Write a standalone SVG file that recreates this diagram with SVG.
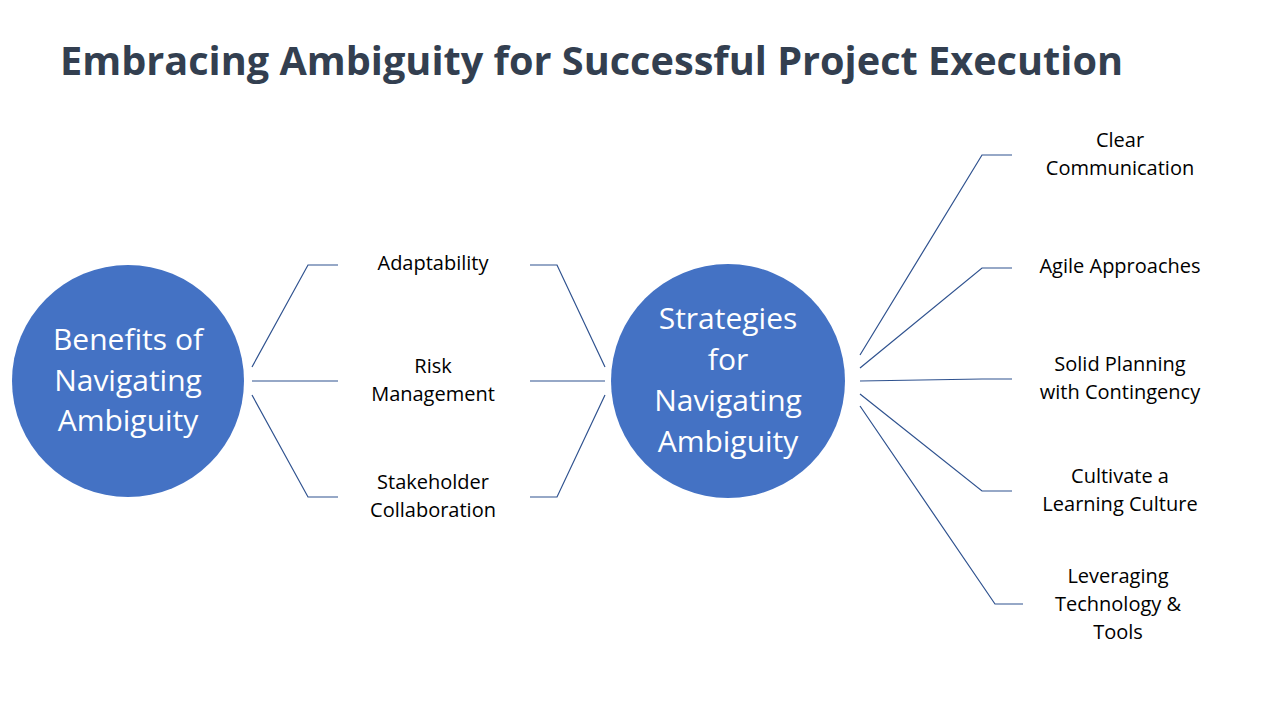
<svg xmlns="http://www.w3.org/2000/svg" width="1280" height="720" viewBox="0 0 1280 720">
<style>
.t{font-family:"Open Sans","Liberation Sans",sans-serif;font-size:20px;fill:#000;text-anchor:middle}
.c{fill:#4472C4}
.ct{font-family:"Open Sans","Liberation Sans",sans-serif;font-size:30px;fill:#fff;text-anchor:middle}
.l{fill:none;stroke:#2F528F;stroke-width:1.2}
</style>
<rect width="1280" height="720" fill="#fff"/>
<text x="60" y="75" font-family="Open Sans, Liberation Sans, sans-serif" font-weight="bold" font-size="40" fill="#333F50" textLength="1063" lengthAdjust="spacingAndGlyphs">Embracing Ambiguity for Successful Project Execution</text>
<g id="connectors">
<path class="l" d="M252,367 L308,265 L338,265"/>
<path class="l" d="M252,381 L338,381"/>
<path class="l" d="M252,395 L308,497 L338,497"/>
<path class="l" d="M530,265 L557,265 L605,367"/>
<path class="l" d="M530,381 L605,381"/>
<path class="l" d="M530,497 L557,497 L605,395"/>
<path class="l" d="M860,355 L982,155 L1012,155"/>
<path class="l" d="M860,368 L982,268 L1012,268"/>
<path class="l" d="M860,381 L982,379 L1012,379"/>
<path class="l" d="M860,394 L982,491 L1012,491"/>
<path class="l" d="M860,406 L995,604 L1023,604"/>
</g>
<g id="benefits"><circle class="c" cx="128" cy="381" r="116"/>
<text class="ct"><tspan x="128" y="350">Benefits of</tspan><tspan x="128" y="391">Navigating</tspan><tspan x="128" y="431">Ambiguity</tspan></text></g>
<g id="strategies"><circle class="c" cx="728" cy="381" r="117"/>
<text class="ct"><tspan x="728" y="329">Strategies</tspan><tspan x="728" y="370">for</tspan><tspan x="728" y="411">Navigating</tspan><tspan x="728" y="452">Ambiguity</tspan></text></g>
<g id="adaptability"><text class="t" x="433" y="270">Adaptability</text></g>
<g id="risk"><text class="t"><tspan x="433" y="373">Risk</tspan><tspan x="433" y="401">Management</tspan></text></g>
<g id="stakeholder"><text class="t"><tspan x="433" y="489">Stakeholder</tspan><tspan x="433" y="517">Collaboration</tspan></text></g>
<g id="clear"><text class="t"><tspan x="1120" y="147">Clear</tspan><tspan x="1120" y="175">Communication</tspan></text></g>
<g id="agile"><text class="t" x="1120" y="273">Agile Approaches</text></g>
<g id="planning"><text class="t"><tspan x="1120" y="371">Solid Planning</tspan><tspan x="1120" y="399">with Contingency</tspan></text></g>
<g id="learning"><text class="t"><tspan x="1120" y="483">Cultivate a</tspan><tspan x="1120" y="511">Learning Culture</tspan></text></g>
<g id="tech"><text class="t"><tspan x="1118" y="583">Leveraging</tspan><tspan x="1118" y="611">Technology &amp;</tspan><tspan x="1118" y="639">Tools</tspan></text></g>
</svg>
